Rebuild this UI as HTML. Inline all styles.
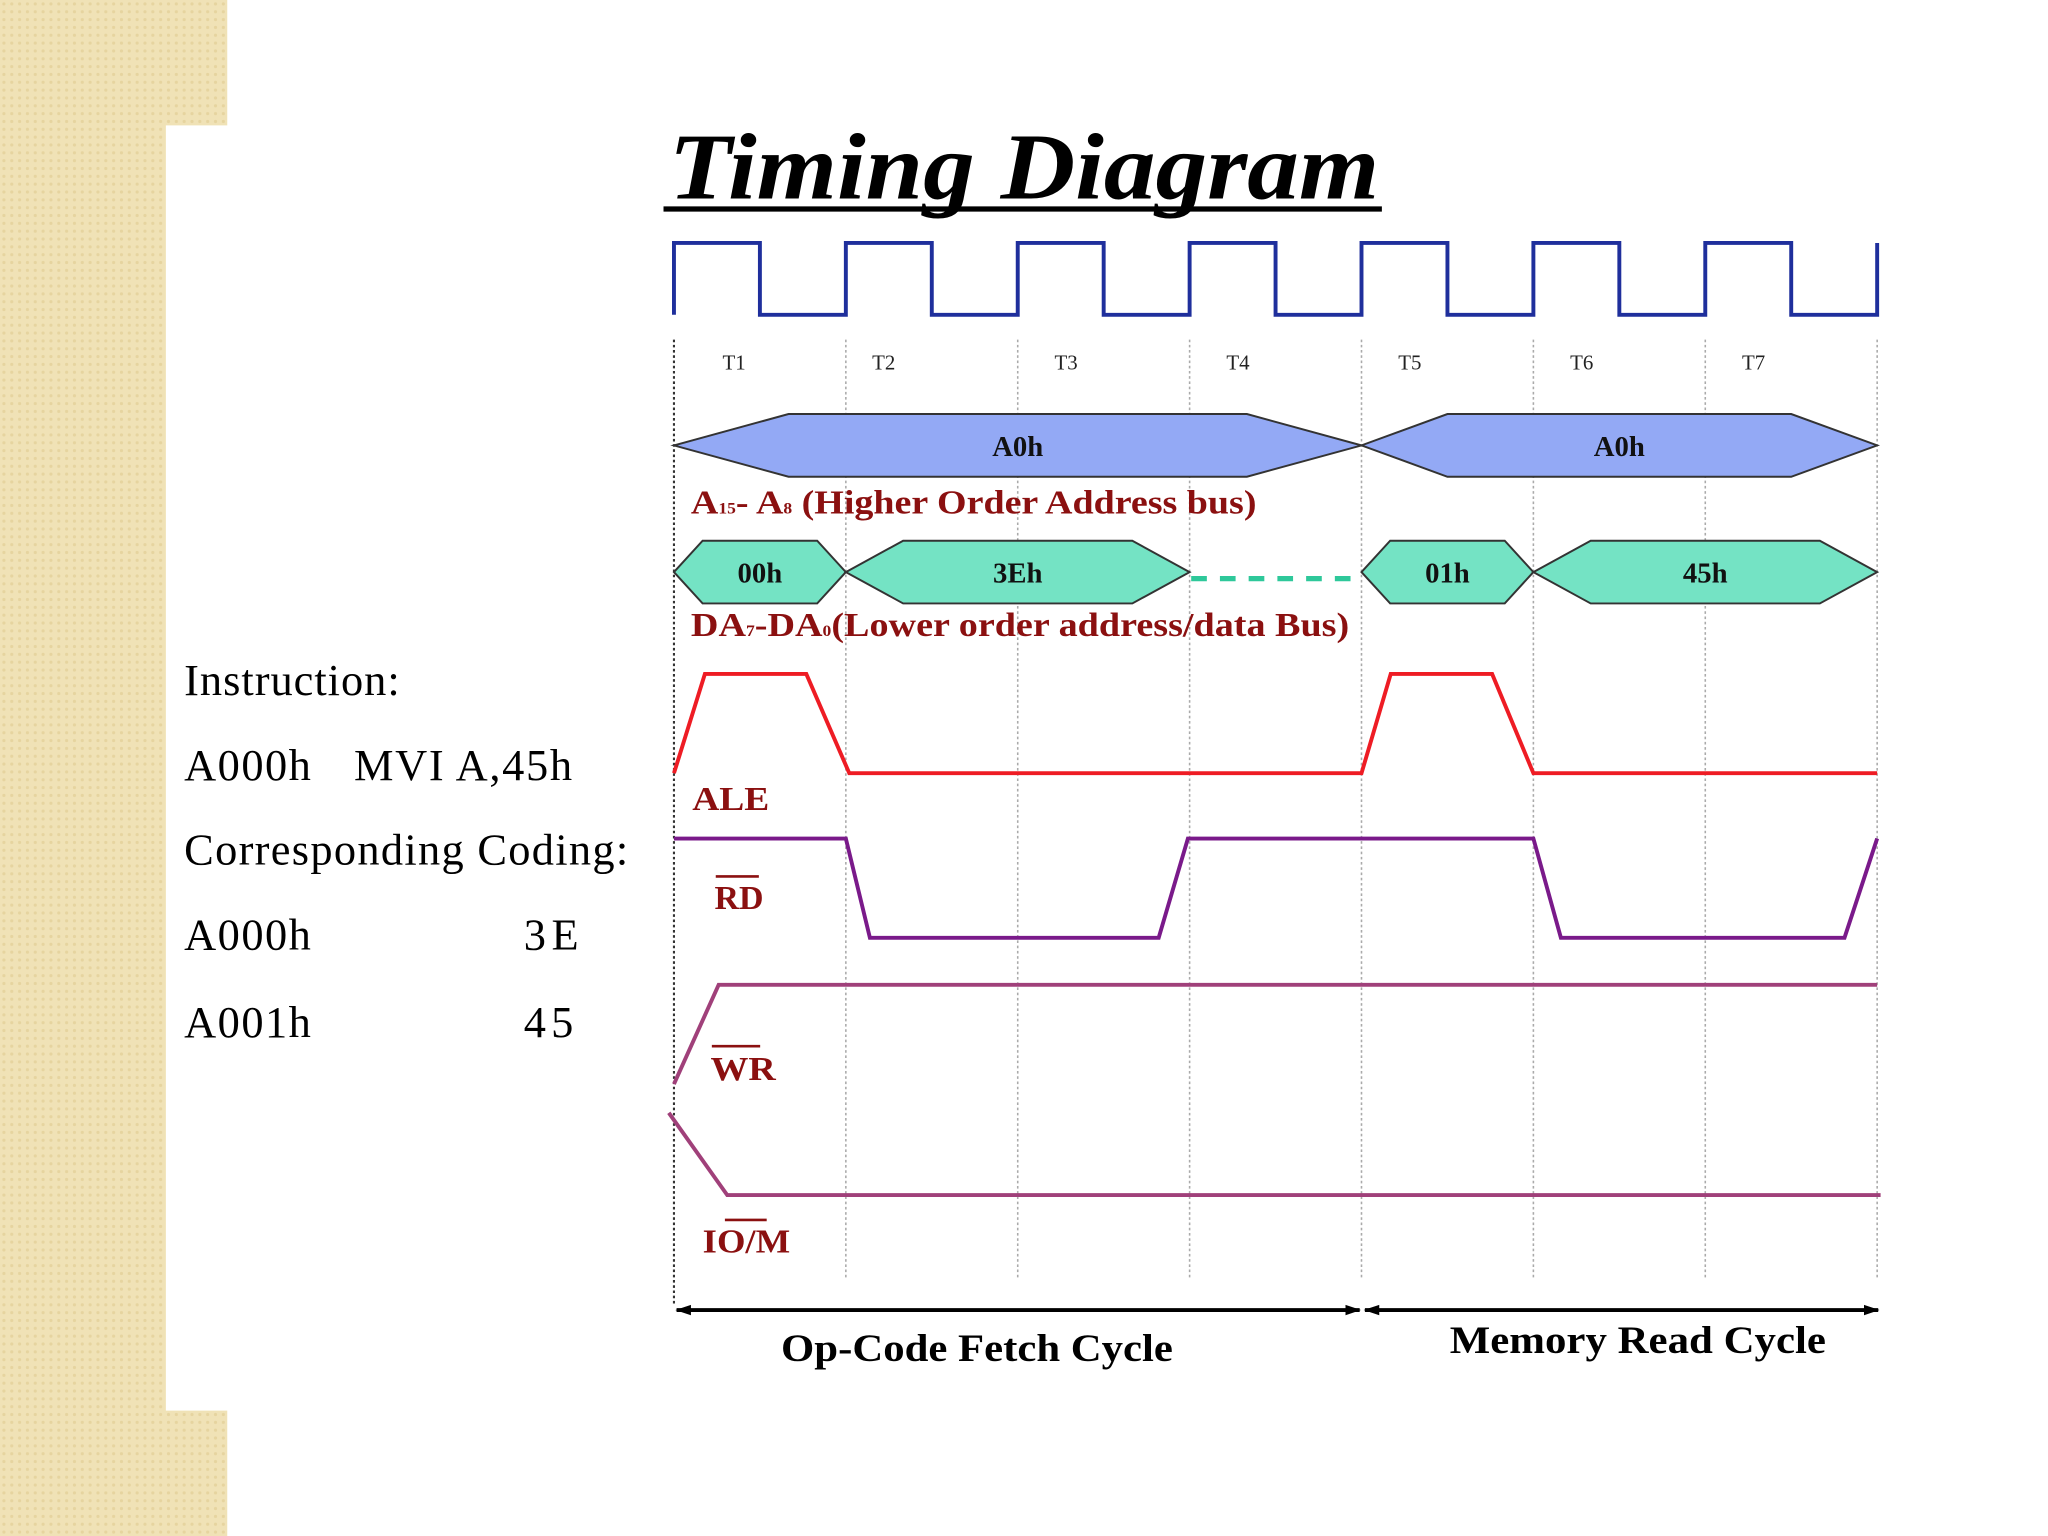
<!DOCTYPE html>
<html><head><meta charset="utf-8"><style>
html,body{margin:0;padding:0;background:#fff;}
svg{display:block;}
</style></head><body>
<svg id="chart" xmlns="http://www.w3.org/2000/svg" width="2048" height="1536" viewBox="0 0 1568 1176">
<defs>
<pattern id="tex" width="6" height="6" patternUnits="userSpaceOnUse">
<rect width="6" height="6" fill="#f0e2b6"/><circle cx="3" cy="3" r="1.2" fill="#e6d49f"/>
</pattern>
<marker id="arrL" markerUnits="userSpaceOnUse" markerWidth="12" markerHeight="10" refX="1" refY="5" orient="auto"><path d="M12,1 L0,5 L12,9 Z" fill="#000"/></marker>
<marker id="arrR" markerUnits="userSpaceOnUse" markerWidth="12" markerHeight="10" refX="11" refY="5" orient="auto"><path d="M0,1 L12,5 L0,9 Z" fill="#000"/></marker>
</defs>
<rect x="0" y="0" width="1568" height="1176" fill="#fff"/>
<rect x="0" y="0" width="174" height="1176" fill="url(#tex)"/>
<rect x="127" y="96" width="1441" height="984" fill="#fff"/>

<text x="512" y="152" textLength="544" lengthAdjust="spacingAndGlyphs" font-family="Liberation Serif, serif" font-size="72" font-weight="bold" font-style="italic" fill="#000">Timing Diagram</text>
<line x1="508" y1="160" x2="1058" y2="160" stroke="#000" stroke-width="4"/>

<g font-family="Liberation Serif, serif" font-size="34" fill="#000" lengthAdjust="spacingAndGlyphs">
<text x="141" y="532" textLength="165">Instruction:</text>
<text x="141" y="597" textLength="97">A000h</text><text x="271" y="597" textLength="167">MVI A,45h</text>
<text x="141" y="662" textLength="340">Corresponding Coding:</text>
<text x="141" y="727" textLength="97">A000h</text><text x="401" y="727" textLength="42">3E</text>
<text x="141" y="794" textLength="97">A001h</text><text x="401" y="794" textLength="38">45</text>
</g>

<g id="grid"></g>
<g id="ticks" font-family="Liberation Serif, serif" font-size="16" fill="#222"></g>
<path id="clock" fill="none" stroke="#1f2f9c" stroke-width="3"/>
<g id="buses" font-family="Liberation Serif, serif" font-weight="bold" font-size="22" fill="#111"></g>
<line x1="912" y1="443" x2="1043" y2="443" stroke="#2ec89a" stroke-width="4" stroke-dasharray="12,10"/>
<g id="signals"></g>

<g font-family="Liberation Serif, serif" font-weight="bold" fill="#8b1010">
<text x="529" y="393" font-size="26" textLength="433" lengthAdjust="spacingAndGlyphs">A<tspan font-size="12">15</tspan>- A<tspan font-size="12">8</tspan> (Higher Order Address bus)</text>
<text x="529" y="487" font-size="26" textLength="504" lengthAdjust="spacingAndGlyphs">DA<tspan font-size="12">7</tspan>-DA<tspan font-size="12">0</tspan>(Lower order address/data Bus)</text>
<text x="530" y="620" font-size="26" textLength="59" lengthAdjust="spacingAndGlyphs">ALE</text>
<text x="547" y="696" font-size="26">RD</text><line x1="548" y1="671" x2="581" y2="671" stroke="#8b1010" stroke-width="2"/>
<text x="544" y="827" font-size="26" textLength="50" lengthAdjust="spacingAndGlyphs">WR</text><line x1="545" y1="801" x2="582" y2="801" stroke="#8b1010" stroke-width="2"/>
<text x="538" y="959" font-size="26" textLength="67" lengthAdjust="spacingAndGlyphs">IO/M</text><line x1="555" y1="934" x2="587" y2="934" stroke="#8b1010" stroke-width="2"/>
</g>

<line x1="518" y1="1003" x2="1041" y2="1003" stroke="#000" stroke-width="3" marker-start="url(#arrL)" marker-end="url(#arrR)"/>
<line x1="1045" y1="1003" x2="1438" y2="1003" stroke="#000" stroke-width="3" marker-start="url(#arrL)" marker-end="url(#arrR)"/>
<text x="598" y="1042" textLength="300" lengthAdjust="spacingAndGlyphs" font-family="Liberation Serif, serif" font-weight="bold" font-size="30">Op-Code Fetch Cycle</text>
<text x="1110" y="1036" textLength="288" lengthAdjust="spacingAndGlyphs" font-family="Liberation Serif, serif" font-weight="bold" font-size="30">Memory Read Cycle</text>
</svg>
<script>
const tLabels = ["T1","T2","T3","T4","T5","T6","T7"];
const clockLevels = [1,0,1,0,1,0,1,0,1,0,1,0,1,0];
const busA = [["A0h",0,4],["A0h",4,7]];
const busD = [["00h",0,1],["3Eh",1,3],["01h",4,5],["45h",5,7]];
const aleT = [0,0.18,0.77,1.02,4,4.17,4.76,5.0,7];
const aleV = [0,1,1,0,0,1,1,0,0];
const rdT = [0,1,1.14,2.82,2.99,5,5.16,6.81,7];
const rdV = [1,1,0,0,1,1,0,0,1];
const wrT = [0,0.26,7];
const wrV = [0,1,1];
const iomT = [-0.03,0.31,7.02];
const iomV = [1,0,0];

const NS = "http://www.w3.org/2000/svg";
const x = t => 516 + t * 131.6;
function el(tag, attrs, parent){const e=document.createElementNS(NS,tag);for(const k in attrs)e.setAttribute(k,attrs[k]);parent.appendChild(e);return e;}

const grid=document.getElementById('grid');
for(let i=0;i<=7;i++){
  const l=el('line',{x1:x(i),x2:x(i),y1:260,y2:i===0?1000:980,stroke:i===0?'#333':'#aaa','stroke-width':i===0?1.6:1.2,'stroke-dasharray':'2,2'},grid);
  
  
}
const ticks=document.getElementById('ticks');
tLabels.forEach((lab,i)=>{
  const t=el('text',{x:x(i)+(i===0?46:i===1?29:37),y:283,'text-anchor':'middle'},ticks);t.textContent=lab;
  
  
});
const yH=186,yL=241;let d=`M${x(0)},${yL}`;
clockLevels.forEach((v,i)=>{const y=v?yH:yL;d+=` L${x(i*0.5)},${y} L${x((i+1)*0.5)},${y}`;});
d+=` L${x(7)},${yH} L${x(7)},${yL}`;
document.getElementById('clock').setAttribute('d',d);

const buses=document.getElementById('buses');
function hex(arr,yc,h,fill,slope,name){
  arr.forEach(([lab,t0,t1])=>{
    const a=x(t0),b=x(t1),s=Math.min(slope,(b-a)/6);
    const p=el('polygon',{points:`${a},${yc} ${a+s},${yc-h} ${b-s},${yc-h} ${b},${yc} ${b-s},${yc+h} ${a+s},${yc+h}`,fill,stroke:'#333','stroke-width':1.5},buses);
    
    
    const t=el('text',{x:(a+b)/2,y:yc+8,'text-anchor':'middle'},buses);t.textContent=lab;
    
    
  });
}
hex(busA,341,24,'#93a9f5',106,'address-bus-segment');
hex(busD,438,24,'#74e3c4',52,'data-bus-segment');

const sig=document.getElementById('signals');
function wave(ts,vs,yHi,yLo,color,name){
  const pts=ts.map((t,i)=>`${x(t)},${vs[i]?yHi:yLo}`).join(' ');
  const p=el('polyline',{points:pts,fill:'none',stroke:color,'stroke-width':3},sig);
  
  
}
wave(aleT,aleV,516,592,'#ee1c24','ale-signal');
wave(rdT,rdV,642,718,'#7a1a8a','rd-signal');
wave(wrT,wrV,754,830,'#a0407a','wr-signal');
wave(iomT,iomV,852,915,'#a0407a','io-m-signal');
</script>
</body></html>
